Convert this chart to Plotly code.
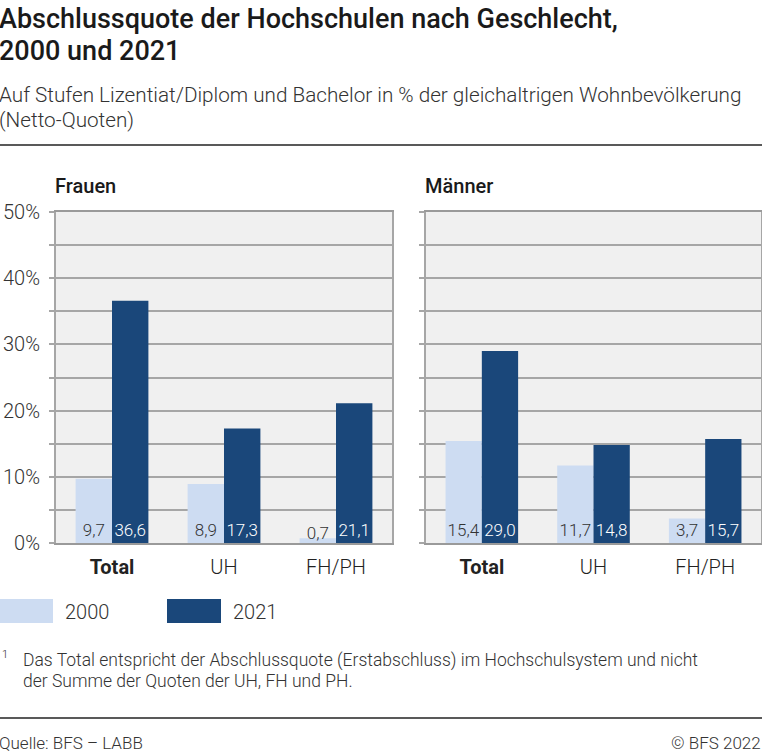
import plotly.graph_objects as go
from plotly.subplots import make_subplots

# data
categories = ["Total", "UH", "FH/PH"]
frauen_2000 = [9.7, 8.9, 0.7]
frauen_2021 = [36.6, 17.3, 21.1]
maenner_2000 = [15.4, 11.7, 3.7]
maenner_2021 = [29.0, 14.8, 15.7]
years = ["2000", "2021"]
y_ticks = [0, 5, 10, 15, 20, 25, 30, 35, 40, 45, 50]
y_ticktext = ["0%", "", "10%", "", "20%", "", "30%", "", "40%", "", "50%"]

LIGHT = "#cddcf2"
DARK = "#1a477a"
FONT = "Roboto"
H = 754
W = 762


def py(px):
    return 1 - px / H


def px_x(px):
    return px / W


def fmt(v):
    return f"{v:.1f}".replace(".", ",")


fig = make_subplots(rows=1, cols=2)

for col, (v2000, v2021) in enumerate([(frauen_2000, frauen_2021), (maenner_2000, maenner_2021)], start=1):
    for vals, color, tcolor, name in [(v2000, LIGHT, "#333333", years[0]), (v2021, DARK, "white", years[1])]:
        fig.add_trace(go.Bar(
            x=categories, y=vals, name=name,
            marker=dict(color=color, line=dict(width=0)),
            text=[fmt(v) for v in vals],
            textposition="inside", insidetextanchor="start",
            textangle=0, constraintext="none",
            textfont=dict(family=FONT, size=17, color=tcolor, weight=300),
            showlegend=False, hoverinfo="skip",
        ), row=1, col=col)

ydom = [py(543), py(212)]
fig.update_layout(
    width=W, height=H,
    margin=dict(l=0, r=0, t=0, b=0, autoexpand=False),
    paper_bgcolor="white", plot_bgcolor="#f0f0f0",
    barmode="group", bargap=0.35, bargroupgap=0,
    font=dict(family=FONT, color="#333333"),
    xaxis=dict(domain=[px_x(56), px_x(392)]),
    xaxis2=dict(domain=[px_x(426), px_x(761)]),
    yaxis=dict(domain=ydom),
    yaxis2=dict(domain=ydom),
)
tick_text = ["<b>Total</b>", "UH", "FH/PH"]
fig.update_xaxes(
    tickvals=categories, ticktext=tick_text,
    tickfont=dict(family=FONT, size=20, color="#222222", weight=300),
    ticklabelstandoff=5,
    showline=True, linecolor="#9a9a9a", linewidth=2, mirror=True,
    ticks="", showgrid=False, fixedrange=True, automargin=False,
)
fig.update_yaxes(
    range=[0, 50], tickvals=y_ticks,
    showline=True, linecolor="#a6a6a6", linewidth=2, mirror=True,
    gridcolor="#a6a6a6", gridwidth=2,
    ticks="outside", ticklen=5, tickcolor="#a6a6a6", tickwidth=2,
    zeroline=False, fixedrange=True, automargin=False,
)
fig.update_yaxes(ticktext=y_ticktext, ticklabelstandoff=5,
                 tickfont=dict(family=FONT, size=20, color="#333333", weight=300),
                 row=1, col=1)
fig.update_yaxes(ticktext=[""] * len(y_ticks), row=1, col=2)

annotations = [
    dict(text="Abschlussquote der Hochschulen nach Geschlecht,", x=0, y=py(19),
         font=dict(size=27, color="#1a1a1a", weight=500)),
    dict(text="2000 und 2021", x=0, y=py(51),
         font=dict(size=27, color="#1a1a1a", weight=500)),
    dict(text="Auf Stufen Lizentiat/Diplom und Bachelor in % der gleichaltrigen Wohnbevölkerung",
         x=0, y=py(95), font=dict(size=20.7, color="#333333", weight=300)),
    dict(text="(Netto-Quoten)", x=0, y=py(120), font=dict(size=20.7, color="#333333", weight=300)),
    dict(text="Frauen", x=px_x(56), y=py(186), font=dict(size=20, color="#1a1a1a", weight=500)),
    dict(text="Männer", x=px_x(426), y=py(186), font=dict(size=20, color="#1a1a1a", weight=500)),
    dict(text=years[0], x=px_x(66), y=py(612), font=dict(size=20, color="#333333", weight=300)),
    dict(text=years[1], x=px_x(234), y=py(612), font=dict(size=20, color="#333333", weight=300)),
    dict(text="1", x=px_x(3), y=py(654), font=dict(size=11, color="#333333", weight=300)),
    dict(text="Das Total entspricht der Abschlussquote (Erstabschluss) im Hochschulsystem und nicht",
         x=px_x(24), y=py(660), font=dict(size=17.5, color="#333333", weight=300)),
    dict(text="der Summe der Quoten der UH, FH und PH.",
         x=px_x(24), y=py(681), font=dict(size=17.5, color="#333333", weight=300)),
    dict(text="Quelle: BFS – LABB", x=0, y=py(743), font=dict(size=17, color="#333333", weight=300)),
    dict(text="© BFS 2022", x=1, y=py(743), xanchor="right", xshift=1,
         font=dict(size=17, color="#333333", weight=300)),
]
for a in annotations:
    a.setdefault("xanchor", "left")
    a.setdefault("xshift", -3)
    fig.add_annotation(xref="paper", yref="paper", yanchor="middle", showarrow=False, **a)
for ann in fig.layout.annotations:
    ann.font.family = FONT

shapes = [
    dict(type="line", x0=0, x1=1, y0=py(145), y1=py(145), line=dict(color="#222222", width=1.5)),
    dict(type="line", x0=0, x1=1, y0=py(718), y1=py(718), line=dict(color="#222222", width=1.5)),
    dict(type="rect", x0=0, x1=px_x(53), y0=py(623), y1=py(599), fillcolor=LIGHT, line=dict(width=0)),
    dict(type="rect", x0=px_x(167), x1=px_x(221), y0=py(623), y1=py(599), fillcolor=DARK, line=dict(width=0)),
]
for s in shapes:
    fig.add_shape(xref="paper", yref="paper", **s)

fig.write_html("out.html", config={"displayModeBar": False},
               post_script="document.body.style.margin='0';")
